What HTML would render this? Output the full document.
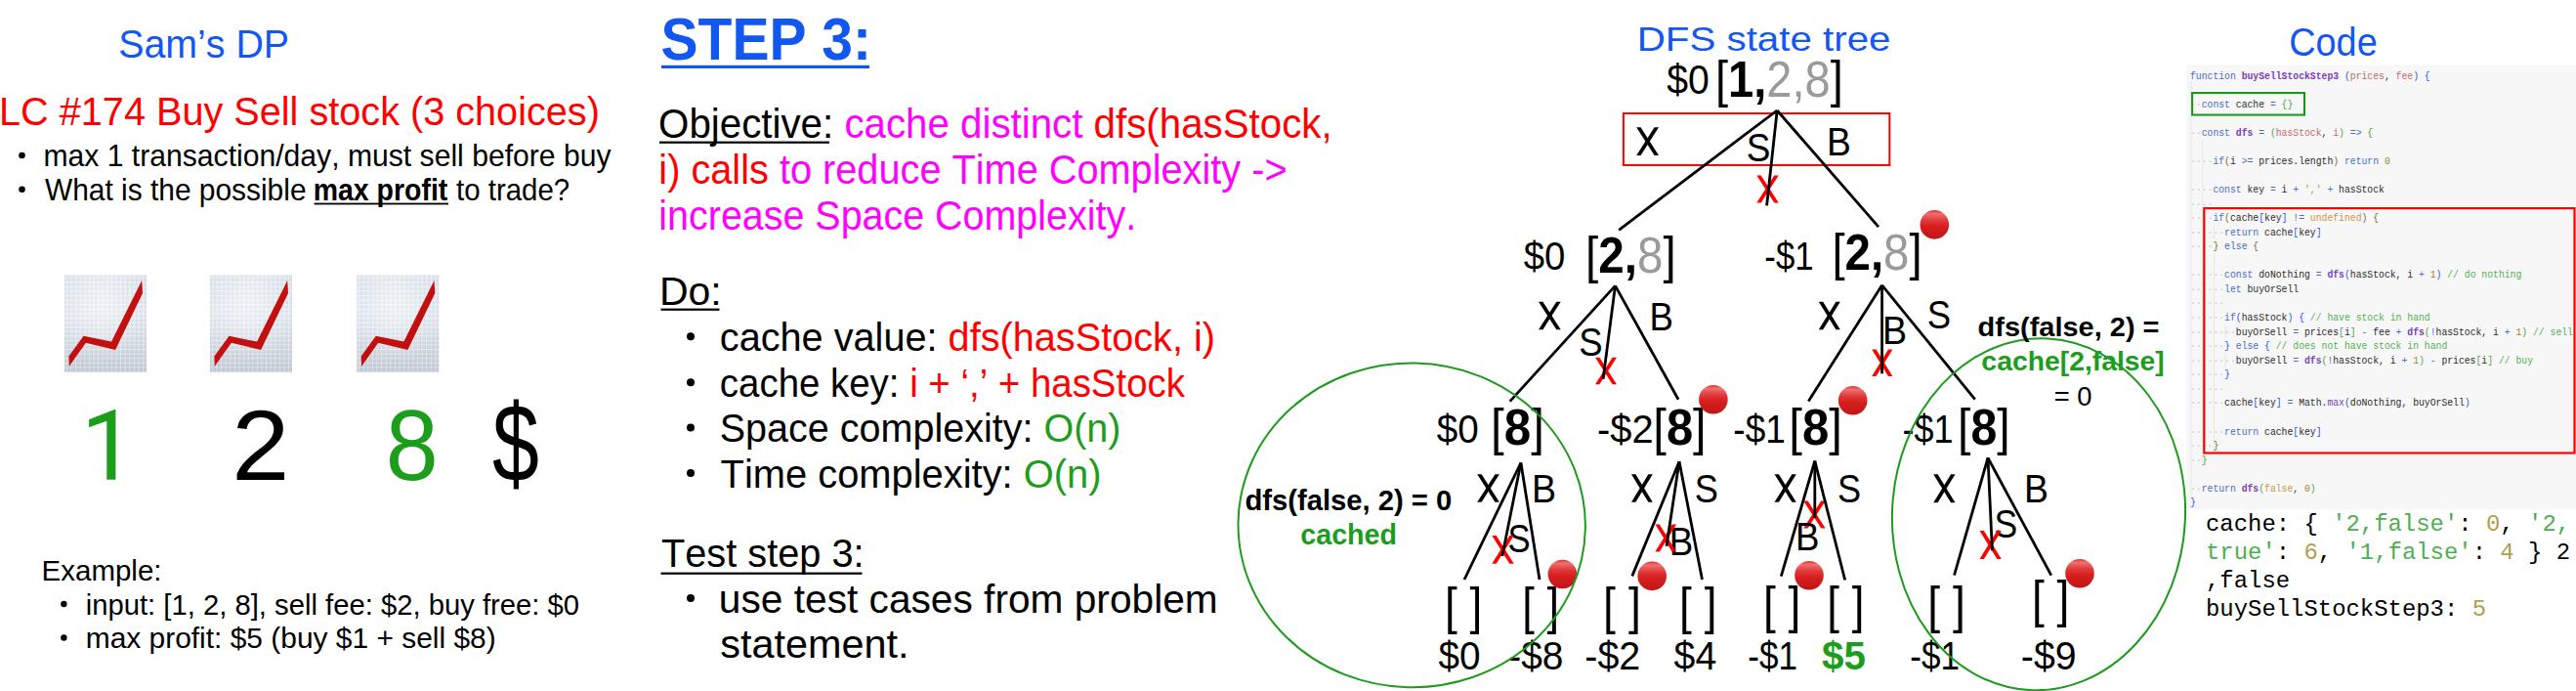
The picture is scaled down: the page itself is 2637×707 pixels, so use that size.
<!DOCTYPE html>
<html><head><meta charset="utf-8"><style>
html,body{margin:0;padding:0;background:#fff;width:2637px;height:707px;overflow:hidden}
svg{display:block}
text{font-kerning:none;white-space:pre}
</style></head><body>
<svg width="2637" height="707" viewBox="0 0 2637 707">
<defs>
<linearGradient id="ball" x1="0" y1="0" x2="0" y2="1">
<stop offset="0" stop-color="#e03030"/><stop offset="0.12" stop-color="#f07070"/><stop offset="0.35" stop-color="#e03a3a"/><stop offset="0.55" stop-color="#d81f1f"/><stop offset="1" stop-color="#c01515"/>
</linearGradient>
<linearGradient id="emobg" x1="0" y1="0" x2="0" y2="1">
<stop offset="0" stop-color="#d8dfe8"/><stop offset="0.4" stop-color="#dde4ec"/><stop offset="1" stop-color="#c2c9d2"/>
</linearGradient>
<radialGradient id="emohi" cx="0.45" cy="0.3" r="0.6">
<stop offset="0" stop-color="#f4f6f8" stop-opacity="0.8"/><stop offset="1" stop-color="#f4f6f8" stop-opacity="0"/>
</radialGradient>
<pattern id="grid" width="4.6" height="4.6" patternUnits="userSpaceOnUse">
<rect x="0" y="2" width="4.6" height="0.8" fill="#ffffff" opacity="0.45"/><rect x="2" y="0" width="0.8" height="4.6" fill="#ffffff" opacity="0.45"/><rect x="0" y="0" width="1.2" height="1.2" fill="#b8c4dc" opacity="0.5"/>
</pattern>
</defs>
<text x="121.21" y="59.00" font-size="40.00" fill="#1357f2" textLength="174.86" lengthAdjust="spacingAndGlyphs" font-family="Liberation Sans">Sam’s DP</text>
<text x="-0.95" y="127.80" font-size="40.70" fill="#ff0000" textLength="614.81" lengthAdjust="spacingAndGlyphs" font-family="Liberation Sans">LC #174 Buy Sell stock (3 choices)</text>
<circle cx="22.50" cy="159.00" r="3.30" fill="#000"/>
<circle cx="22.50" cy="193.70" r="3.30" fill="#000"/>
<text x="44.40" y="169.80" font-size="30.70" fill="#000000" textLength="581.16" lengthAdjust="spacingAndGlyphs" font-family="Liberation Sans">max 1 transaction/day, must sell before buy</text>
<text x="45.97" y="204.70" font-size="30.70" fill="#000000" textLength="267.56" lengthAdjust="spacingAndGlyphs" font-family="Liberation Sans">What is the possible</text>
<text x="320.72" y="204.70" font-size="30.70" fill="#000000" font-weight="bold" textLength="137.62" lengthAdjust="spacingAndGlyphs" font-family="Liberation Sans">max profit</text>
<text x="467.06" y="204.70" font-size="30.70" fill="#000000" textLength="116.04" lengthAdjust="spacingAndGlyphs" font-family="Liberation Sans">to trade?</text>
<rect x="321.60" y="207.60" width="137.40" height="1.80" fill="#000000"/>
<g transform="translate(66.00,281.60)">
<rect x="0" y="0" width="84.00" height="99.50" fill="url(#emobg)"/>
<rect x="0" y="0" width="84.00" height="99.50" fill="url(#emohi)"/>
<rect x="0" y="0" width="84.00" height="99.50" fill="url(#grid)"/>
<polygon points="4.4,82.8 19.5,62.1 48.1,68 79.2,5.5 80,18.3 52.1,76.4 21.9,69.2 4.8,93.1" fill="#c40f0f"/>
</g>
<g transform="translate(215.00,281.60)">
<rect x="0" y="0" width="84.00" height="99.50" fill="url(#emobg)"/>
<rect x="0" y="0" width="84.00" height="99.50" fill="url(#emohi)"/>
<rect x="0" y="0" width="84.00" height="99.50" fill="url(#grid)"/>
<polygon points="4.4,82.8 19.5,62.1 48.1,68 79.2,5.5 80,18.3 52.1,76.4 21.9,69.2 4.8,93.1" fill="#c40f0f"/>
</g>
<g transform="translate(365.30,281.60)">
<rect x="0" y="0" width="84.00" height="99.50" fill="url(#emobg)"/>
<rect x="0" y="0" width="84.00" height="99.50" fill="url(#emohi)"/>
<rect x="0" y="0" width="84.00" height="99.50" fill="url(#grid)"/>
<polygon points="4.4,82.8 19.5,62.1 48.1,68 79.2,5.5 80,18.3 52.1,76.4 21.9,69.2 4.8,93.1" fill="#c40f0f"/>
</g>
<polygon points="91.1,429.3 117.1,419.1 118.4,419.1 118.4,490.7 109.3,490.7 109.3,430.8 91.1,437.3" fill="#1c9e1c"/>
<text x="237.36" y="491.00" font-size="102.00" fill="#000000" textLength="59.09" lengthAdjust="spacingAndGlyphs" font-family="Liberation Sans">2</text>
<text x="394.79" y="491.00" font-size="102.00" fill="#1c9e1c" textLength="53.93" lengthAdjust="spacingAndGlyphs" font-family="Liberation Sans">8</text>
<text x="504.08" y="493.40" font-size="113.50" fill="#000000" textLength="47.81" lengthAdjust="spacingAndGlyphs" font-family="Liberation Sans">$</text>
<text x="42.58" y="593.60" font-size="29.50" fill="#000000" textLength="122.91" lengthAdjust="spacingAndGlyphs" font-family="Liberation Sans">Example:</text>
<circle cx="65.40" cy="618.00" r="3.20" fill="#000"/>
<circle cx="65.40" cy="652.50" r="3.20" fill="#000"/>
<text x="87.74" y="628.60" font-size="29.50" fill="#000000" textLength="505.40" lengthAdjust="spacingAndGlyphs" font-family="Liberation Sans">input: [1, 2, 8], sell fee: $2, buy free: $0</text>
<text x="87.71" y="662.90" font-size="29.50" fill="#000000" textLength="419.94" lengthAdjust="spacingAndGlyphs" font-family="Liberation Sans">max profit: $5 (buy $1 + sell $8)</text>
<text x="676.56" y="60.80" font-size="62.00" fill="#1357f2" font-weight="bold" textLength="215.43" lengthAdjust="spacingAndGlyphs" font-family="Liberation Sans">STEP 3:</text>
<rect x="677.00" y="66.80" width="213.00" height="3.20" fill="#1357f2"/>
<text x="674.09" y="140.80" font-size="42.00" fill="#000000" textLength="179.09" lengthAdjust="spacingAndGlyphs" font-family="Liberation Sans">Objective:</text>
<text x="853.19" y="140.80" font-size="42.00" fill="#ff00ff" textLength="266.42" lengthAdjust="spacingAndGlyphs" font-family="Liberation Sans"> cache distinct </text>
<text x="1119.60" y="140.80" font-size="42.00" fill="#ff0000" textLength="244.02" lengthAdjust="spacingAndGlyphs" font-family="Liberation Sans">dfs(hasStock,</text>
<rect x="675.00" y="144.60" width="174.00" height="2.20" fill="#000000"/>
<text x="674.34" y="188.00" font-size="42.00" fill="#ff0000" textLength="112.52" lengthAdjust="spacingAndGlyphs" font-family="Liberation Sans">i) calls</text>
<text x="786.87" y="188.00" font-size="42.00" fill="#ff00ff" textLength="530.77" lengthAdjust="spacingAndGlyphs" font-family="Liberation Sans"> to reduce Time Complexity -&gt;</text>
<text x="674.36" y="234.60" font-size="42.00" fill="#ff00ff" textLength="488.74" lengthAdjust="spacingAndGlyphs" font-family="Liberation Sans">increase Space Complexity.</text>
<text x="674.94" y="311.70" font-size="40.00" fill="#000000" textLength="63.81" lengthAdjust="spacingAndGlyphs" font-family="Liberation Sans">Do:</text>
<rect x="676.50" y="315.60" width="60.00" height="2.20" fill="#000000"/>
<circle cx="707.00" cy="344.30" r="4.00" fill="#000"/>
<circle cx="707.00" cy="391.30" r="4.00" fill="#000"/>
<circle cx="707.00" cy="437.60" r="4.00" fill="#000"/>
<circle cx="707.00" cy="483.90" r="4.00" fill="#000"/>
<text x="736.81" y="359.10" font-size="41.50" fill="#000000" textLength="233.77" lengthAdjust="spacingAndGlyphs" font-family="Liberation Sans">cache value: </text>
<text x="970.58" y="359.10" font-size="41.50" fill="#ff0000" textLength="273.38" lengthAdjust="spacingAndGlyphs" font-family="Liberation Sans">dfs(hasStock, i)</text>
<text x="736.87" y="406.10" font-size="41.50" fill="#000000" textLength="194.27" lengthAdjust="spacingAndGlyphs" font-family="Liberation Sans">cache key: </text>
<text x="931.14" y="406.10" font-size="41.50" fill="#ff0000" textLength="281.80" lengthAdjust="spacingAndGlyphs" font-family="Liberation Sans">i + ‘,’ + hasStock</text>
<text x="736.71" y="452.40" font-size="41.50" fill="#000000" textLength="331.70" lengthAdjust="spacingAndGlyphs" font-family="Liberation Sans">Space complexity: </text>
<text x="1068.40" y="452.40" font-size="41.50" fill="#1c9e1c" textLength="79.05" lengthAdjust="spacingAndGlyphs" font-family="Liberation Sans">O(n)</text>
<text x="737.60" y="498.70" font-size="41.50" fill="#000000" textLength="310.13" lengthAdjust="spacingAndGlyphs" font-family="Liberation Sans">Time complexity: </text>
<text x="1047.74" y="498.70" font-size="41.50" fill="#1c9e1c" textLength="79.73" lengthAdjust="spacingAndGlyphs" font-family="Liberation Sans">O(n)</text>
<text x="676.91" y="580.00" font-size="41.50" fill="#000000" textLength="207.72" lengthAdjust="spacingAndGlyphs" font-family="Liberation Sans">Test step 3:</text>
<rect x="676.50" y="585.60" width="206.00" height="2.20" fill="#000000"/>
<circle cx="707.00" cy="611.90" r="4.00" fill="#000"/>
<text x="735.86" y="626.70" font-size="41.50" fill="#000000" textLength="510.82" lengthAdjust="spacingAndGlyphs" font-family="Liberation Sans">use test cases from problem</text>
<text x="737.35" y="673.30" font-size="41.50" fill="#000000" textLength="193.13" lengthAdjust="spacingAndGlyphs" font-family="Liberation Sans">statement.</text>
<text x="1675.69" y="52.00" font-size="35.80" fill="#1357f2" textLength="259.80" lengthAdjust="spacingAndGlyphs" font-family="Liberation Sans">DFS state tree</text>
<text x="1706.28" y="96.10" font-size="42.00" fill="#000000" textLength="43.55" lengthAdjust="spacingAndGlyphs" font-family="Liberation Sans">$0</text>
<text x="1756.05" y="98.80" font-size="51.00" fill="#000000" textLength="13.07" lengthAdjust="spacingAndGlyphs" font-family="Liberation Sans">[</text>
<text x="1769.12" y="98.80" font-size="51.00" fill="#000000" font-weight="bold" textLength="39.25" lengthAdjust="spacingAndGlyphs" font-family="Liberation Sans">1,</text>
<text x="1808.36" y="98.80" font-size="51.00" fill="#9a9a9a" textLength="65.42" lengthAdjust="spacingAndGlyphs" font-family="Liberation Sans">2,8</text>
<text x="1873.78" y="98.80" font-size="51.00" fill="#000000" textLength="13.07" lengthAdjust="spacingAndGlyphs" font-family="Liberation Sans">]</text>
<rect x="1661.9" y="116.05" width="272.4" height="52.9" fill="none" stroke="#ff0000" stroke-width="2"/>
<polygon points="1675.20,130.20 1679.60,130.20 1698.00,158.90 1693.60,158.90" fill="#000000"/>
<polygon points="1693.60,130.20 1698.00,130.20 1679.60,158.90 1675.20,158.90" fill="#000000"/>
<text x="1787.72" y="164.50" font-size="41.50" fill="#000000" textLength="24.68" lengthAdjust="spacingAndGlyphs" font-family="Liberation Sans">S</text>
<text x="1869.95" y="158.90" font-size="41.50" fill="#000000" textLength="24.81" lengthAdjust="spacingAndGlyphs" font-family="Liberation Sans">B</text>
<polygon points="1798.30,179.60 1802.70,179.60 1820.70,207.50 1816.30,207.50" fill="#ff0000"/>
<polygon points="1816.30,179.60 1820.70,179.60 1802.70,207.50 1798.30,207.50" fill="#ff0000"/>
<text x="1559.79" y="276.20" font-size="40.00" fill="#000000" textLength="42.61" lengthAdjust="spacingAndGlyphs" font-family="Liberation Sans">$0</text>
<text x="1623.11" y="278.50" font-size="51.00" fill="#000000" textLength="13.22" lengthAdjust="spacingAndGlyphs" font-family="Liberation Sans">[</text>
<text x="1636.33" y="278.50" font-size="51.00" fill="#000000" font-weight="bold" textLength="39.68" lengthAdjust="spacingAndGlyphs" font-family="Liberation Sans">2,</text>
<text x="1676.01" y="278.50" font-size="51.00" fill="#9a9a9a" textLength="26.46" lengthAdjust="spacingAndGlyphs" font-family="Liberation Sans">8</text>
<text x="1702.47" y="278.50" font-size="51.00" fill="#000000" textLength="13.22" lengthAdjust="spacingAndGlyphs" font-family="Liberation Sans">]</text>
<text x="1806.36" y="276.20" font-size="40.00" fill="#000000" textLength="50.24" lengthAdjust="spacingAndGlyphs" font-family="Liberation Sans">-$1</text>
<text x="1875.42" y="275.50" font-size="51.00" fill="#000000" textLength="13.16" lengthAdjust="spacingAndGlyphs" font-family="Liberation Sans">[</text>
<text x="1888.58" y="275.50" font-size="51.00" fill="#000000" font-weight="bold" textLength="39.50" lengthAdjust="spacingAndGlyphs" font-family="Liberation Sans">2,</text>
<text x="1928.08" y="275.50" font-size="51.00" fill="#9a9a9a" textLength="26.34" lengthAdjust="spacingAndGlyphs" font-family="Liberation Sans">8</text>
<text x="1954.42" y="275.50" font-size="51.00" fill="#000000" textLength="13.16" lengthAdjust="spacingAndGlyphs" font-family="Liberation Sans">]</text>
<polygon points="1575.00,308.70 1579.40,308.70 1597.70,337.20 1593.30,337.20" fill="#000000"/>
<polygon points="1593.30,308.70 1597.70,308.70 1579.40,337.20 1575.00,337.20" fill="#000000"/>
<text x="1616.34" y="363.90" font-size="41.50" fill="#000000" textLength="24.33" lengthAdjust="spacingAndGlyphs" font-family="Liberation Sans">S</text>
<text x="1688.49" y="338.30" font-size="41.50" fill="#000000" textLength="24.44" lengthAdjust="spacingAndGlyphs" font-family="Liberation Sans">B</text>
<polygon points="1633.00,365.80 1637.40,365.80 1655.00,393.30 1650.60,393.30" fill="#ff0000"/>
<polygon points="1650.60,365.80 1655.00,365.80 1637.40,393.30 1633.00,393.30" fill="#ff0000"/>
<polygon points="1861.80,308.70 1866.20,308.70 1883.80,337.20 1879.40,337.20" fill="#000000"/>
<polygon points="1879.40,308.70 1883.80,308.70 1866.20,337.20 1861.80,337.20" fill="#000000"/>
<text x="1926.92" y="352.00" font-size="41.50" fill="#000000" textLength="25.06" lengthAdjust="spacingAndGlyphs" font-family="Liberation Sans">B</text>
<text x="1972.84" y="336.40" font-size="41.50" fill="#000000" textLength="24.33" lengthAdjust="spacingAndGlyphs" font-family="Liberation Sans">S</text>
<polygon points="1916.20,357.60 1920.60,357.60 1937.40,385.00 1933.00,385.00" fill="#ff0000"/>
<polygon points="1933.00,357.60 1937.40,357.60 1920.60,385.00 1916.20,385.00" fill="#ff0000"/>
<text x="1470.68" y="453.00" font-size="40.00" fill="#000000" textLength="43.03" lengthAdjust="spacingAndGlyphs" font-family="Liberation Sans">$0</text>
<text x="1526.08" y="455.00" font-size="51.00" fill="#000000" textLength="13.70" lengthAdjust="spacingAndGlyphs" font-family="Liberation Sans">[</text>
<text x="1539.79" y="455.00" font-size="51.00" fill="#000000" font-weight="bold" textLength="27.43" lengthAdjust="spacingAndGlyphs" font-family="Liberation Sans">8</text>
<text x="1567.21" y="455.00" font-size="51.00" fill="#000000" textLength="13.70" lengthAdjust="spacingAndGlyphs" font-family="Liberation Sans">]</text>
<text x="1635.03" y="453.00" font-size="40.00" fill="#000000" textLength="57.57" lengthAdjust="spacingAndGlyphs" font-family="Liberation Sans">-$2</text>
<text x="1692.31" y="455.00" font-size="51.00" fill="#000000" textLength="13.59" lengthAdjust="spacingAndGlyphs" font-family="Liberation Sans">[</text>
<text x="1705.90" y="455.00" font-size="51.00" fill="#000000" font-weight="bold" textLength="27.20" lengthAdjust="spacingAndGlyphs" font-family="Liberation Sans">8</text>
<text x="1733.10" y="455.00" font-size="51.00" fill="#000000" textLength="13.59" lengthAdjust="spacingAndGlyphs" font-family="Liberation Sans">]</text>
<text x="1774.36" y="453.00" font-size="40.00" fill="#000000" textLength="53.45" lengthAdjust="spacingAndGlyphs" font-family="Liberation Sans">-$1</text>
<text x="1831.30" y="455.00" font-size="51.00" fill="#000000" textLength="13.64" lengthAdjust="spacingAndGlyphs" font-family="Liberation Sans">[</text>
<text x="1844.94" y="455.00" font-size="51.00" fill="#000000" font-weight="bold" textLength="27.31" lengthAdjust="spacingAndGlyphs" font-family="Liberation Sans">8</text>
<text x="1872.26" y="455.00" font-size="51.00" fill="#000000" textLength="13.64" lengthAdjust="spacingAndGlyphs" font-family="Liberation Sans">]</text>
<text x="1947.60" y="453.00" font-size="40.00" fill="#000000" textLength="52.06" lengthAdjust="spacingAndGlyphs" font-family="Liberation Sans">-$1</text>
<text x="2004.06" y="455.00" font-size="51.00" fill="#000000" textLength="13.42" lengthAdjust="spacingAndGlyphs" font-family="Liberation Sans">[</text>
<text x="2017.47" y="455.00" font-size="51.00" fill="#000000" font-weight="bold" textLength="26.85" lengthAdjust="spacingAndGlyphs" font-family="Liberation Sans">8</text>
<text x="2044.33" y="455.00" font-size="51.00" fill="#000000" textLength="13.42" lengthAdjust="spacingAndGlyphs" font-family="Liberation Sans">]</text>
<polygon points="1512.20,485.20 1516.60,485.20 1534.90,513.80 1530.50,513.80" fill="#000000"/>
<polygon points="1530.50,485.20 1534.90,485.20 1516.60,513.80 1512.20,513.80" fill="#000000"/>
<text x="1567.92" y="513.80" font-size="41.50" fill="#000000" textLength="25.06" lengthAdjust="spacingAndGlyphs" font-family="Liberation Sans">B</text>
<text x="1543.43" y="565.00" font-size="41.50" fill="#000000" textLength="23.06" lengthAdjust="spacingAndGlyphs" font-family="Liberation Sans">S</text>
<polygon points="1527.30,548.10 1531.70,548.10 1549.70,576.70 1545.30,576.70" fill="#ff0000"/>
<polygon points="1545.30,548.10 1549.70,548.10 1531.70,576.70 1527.30,576.70" fill="#ff0000"/>
<polygon points="1670.00,485.20 1674.40,485.20 1691.80,513.80 1687.40,513.80" fill="#000000"/>
<polygon points="1687.40,485.20 1691.80,485.20 1674.40,513.80 1670.00,513.80" fill="#000000"/>
<text x="1734.75" y="513.60" font-size="41.50" fill="#000000" textLength="24.21" lengthAdjust="spacingAndGlyphs" font-family="Liberation Sans">S</text>
<text x="1708.79" y="567.50" font-size="41.50" fill="#000000" textLength="24.44" lengthAdjust="spacingAndGlyphs" font-family="Liberation Sans">B</text>
<polygon points="1694.40,536.40 1698.80,536.40 1716.10,564.60 1711.70,564.60" fill="#ff0000"/>
<polygon points="1711.70,536.40 1716.10,536.40 1698.80,564.60 1694.40,564.60" fill="#ff0000"/>
<polygon points="1816.50,485.20 1820.90,485.20 1838.80,513.80 1834.40,513.80" fill="#000000"/>
<polygon points="1834.40,485.20 1838.80,485.20 1820.90,513.80 1816.50,513.80" fill="#000000"/>
<text x="1881.06" y="513.60" font-size="41.50" fill="#000000" textLength="24.10" lengthAdjust="spacingAndGlyphs" font-family="Liberation Sans">S</text>
<polygon points="1846.20,512.50 1850.60,512.50 1868.60,540.50 1864.20,540.50" fill="#ff0000"/>
<polygon points="1864.20,512.50 1868.60,512.50 1850.60,540.50 1846.20,540.50" fill="#ff0000"/>
<text x="1837.99" y="562.60" font-size="41.50" fill="#000000" textLength="24.44" lengthAdjust="spacingAndGlyphs" font-family="Liberation Sans">B</text>
<polygon points="1979.20,485.30 1983.60,485.30 2001.50,514.30 1997.10,514.30" fill="#000000"/>
<polygon points="1997.10,485.30 2001.50,485.30 1983.60,514.30 1979.20,514.30" fill="#000000"/>
<text x="2072.03" y="514.30" font-size="41.50" fill="#000000" textLength="24.94" lengthAdjust="spacingAndGlyphs" font-family="Liberation Sans">B</text>
<text x="2041.38" y="550.20" font-size="41.50" fill="#000000" textLength="23.75" lengthAdjust="spacingAndGlyphs" font-family="Liberation Sans">S</text>
<polygon points="2026.50,543.10 2030.90,543.10 2048.80,571.90 2044.40,571.90" fill="#ff0000"/>
<polygon points="2044.40,543.10 2048.80,543.10 2030.90,571.90 2026.50,571.90" fill="#ff0000"/>
<line x1="1819.20" y1="113.00" x2="1657.20" y2="235.30" stroke="#000" stroke-width="2.80"/>
<line x1="1819.20" y1="113.00" x2="1808.60" y2="210.30" stroke="#000" stroke-width="2.80"/>
<line x1="1819.20" y1="113.00" x2="1923.00" y2="232.10" stroke="#000" stroke-width="2.80"/>
<line x1="1653.50" y1="292.40" x2="1545.70" y2="410.60" stroke="#000" stroke-width="2.80"/>
<line x1="1653.50" y1="292.40" x2="1641.10" y2="387.80" stroke="#000" stroke-width="2.80"/>
<line x1="1653.50" y1="292.40" x2="1718.10" y2="408.70" stroke="#000" stroke-width="2.80"/>
<line x1="1926.60" y1="291.80" x2="1851.30" y2="410.60" stroke="#000" stroke-width="2.80"/>
<line x1="1926.60" y1="291.80" x2="1926.60" y2="382.30" stroke="#000" stroke-width="2.80"/>
<line x1="1926.60" y1="291.80" x2="2021.80" y2="408.70" stroke="#000" stroke-width="2.80"/>
<line x1="1556.90" y1="473.50" x2="1499.00" y2="593.00" stroke="#000" stroke-width="2.80"/>
<line x1="1556.90" y1="473.50" x2="1537.80" y2="569.00" stroke="#000" stroke-width="2.80"/>
<line x1="1556.90" y1="473.50" x2="1576.00" y2="593.00" stroke="#000" stroke-width="2.80"/>
<line x1="1719.00" y1="472.30" x2="1670.80" y2="589.40" stroke="#000" stroke-width="2.80"/>
<line x1="1719.00" y1="472.30" x2="1706.00" y2="558.80" stroke="#000" stroke-width="2.80"/>
<line x1="1719.00" y1="472.30" x2="1742.50" y2="593.00" stroke="#000" stroke-width="2.80"/>
<line x1="1857.80" y1="471.60" x2="1823.30" y2="589.70" stroke="#000" stroke-width="2.80"/>
<line x1="1857.80" y1="471.60" x2="1857.80" y2="530.00" stroke="#000" stroke-width="2.80"/>
<line x1="1857.80" y1="471.60" x2="1888.70" y2="593.50" stroke="#000" stroke-width="2.80"/>
<line x1="2035.00" y1="468.50" x2="2000.50" y2="588.70" stroke="#000" stroke-width="2.80"/>
<line x1="2035.00" y1="468.50" x2="2039.40" y2="563.30" stroke="#000" stroke-width="2.80"/>
<line x1="2035.00" y1="468.50" x2="2099.80" y2="588.70" stroke="#000" stroke-width="2.80"/>
<text x="1479.02" y="637.80" font-size="51.80" fill="#000000" textLength="38.36" lengthAdjust="spacingAndGlyphs" font-family="Liberation Sans">[ ]</text>
<text x="1558.37" y="637.80" font-size="51.80" fill="#000000" textLength="37.76" lengthAdjust="spacingAndGlyphs" font-family="Liberation Sans">[ ]</text>
<text x="1641.09" y="637.80" font-size="51.80" fill="#000000" textLength="38.72" lengthAdjust="spacingAndGlyphs" font-family="Liberation Sans">[ ]</text>
<text x="1719.12" y="637.80" font-size="51.80" fill="#000000" textLength="38.36" lengthAdjust="spacingAndGlyphs" font-family="Liberation Sans">[ ]</text>
<text x="1804.90" y="637.30" font-size="51.80" fill="#000000" textLength="38.60" lengthAdjust="spacingAndGlyphs" font-family="Liberation Sans">[ ]</text>
<text x="1870.24" y="637.30" font-size="51.80" fill="#000000" textLength="38.12" lengthAdjust="spacingAndGlyphs" font-family="Liberation Sans">[ ]</text>
<text x="1973.20" y="637.30" font-size="51.80" fill="#000000" textLength="38.60" lengthAdjust="spacingAndGlyphs" font-family="Liberation Sans">[ ]</text>
<text x="2079.90" y="630.80" font-size="51.80" fill="#000000" textLength="38.60" lengthAdjust="spacingAndGlyphs" font-family="Liberation Sans">[ ]</text>
<text x="1472.58" y="685.30" font-size="40.40" fill="#000000" textLength="43.03" lengthAdjust="spacingAndGlyphs" font-family="Liberation Sans">$0</text>
<text x="1544.27" y="685.30" font-size="40.40" fill="#000000" textLength="56.22" lengthAdjust="spacingAndGlyphs" font-family="Liberation Sans">-$8</text>
<text x="1622.25" y="685.30" font-size="40.40" fill="#000000" textLength="57.04" lengthAdjust="spacingAndGlyphs" font-family="Liberation Sans">-$2</text>
<text x="1713.58" y="685.30" font-size="40.40" fill="#000000" textLength="43.67" lengthAdjust="spacingAndGlyphs" font-family="Liberation Sans">$4</text>
<text x="1789.34" y="685.30" font-size="40.40" fill="#000000" textLength="50.67" lengthAdjust="spacingAndGlyphs" font-family="Liberation Sans">-$1</text>
<text x="1865.07" y="685.30" font-size="40.40" fill="#1c9e1c" font-weight="bold" textLength="44.85" lengthAdjust="spacingAndGlyphs" font-family="Liberation Sans">$5</text>
<text x="1955.24" y="685.30" font-size="40.40" fill="#000000" textLength="50.67" lengthAdjust="spacingAndGlyphs" font-family="Liberation Sans">-$1</text>
<text x="2068.85" y="685.30" font-size="40.40" fill="#000000" textLength="56.81" lengthAdjust="spacingAndGlyphs" font-family="Liberation Sans">-$9</text>
<circle cx="1980.3" cy="229.9" r="14.8" fill="url(#ball)"/>
<circle cx="1753.9" cy="408.7" r="14.8" fill="url(#ball)"/>
<circle cx="1896.7" cy="409.8" r="14.8" fill="url(#ball)"/>
<circle cx="1599.4" cy="587.5" r="14.8" fill="url(#ball)"/>
<circle cx="1691.2" cy="589.4" r="14.8" fill="url(#ball)"/>
<circle cx="1852.0" cy="588.8" r="14.8" fill="url(#ball)"/>
<circle cx="2129.0" cy="586.7" r="14.8" fill="url(#ball)"/>
<ellipse cx="1445.2" cy="537.4" rx="177.7" ry="165.9" transform="rotate(1.26 1445.2 537.4)" fill="none" stroke="#1e9a1e" stroke-width="2"/>
<ellipse cx="2087" cy="526.3" rx="150" ry="180" transform="rotate(3 2087 526.3)" fill="none" stroke="#1e9a1e" stroke-width="2"/>
<text x="1274.40" y="522.00" font-size="29.00" fill="#000000" font-weight="bold" textLength="211.90" lengthAdjust="spacingAndGlyphs" font-family="Liberation Sans">dfs(false, 2) = 0</text>
<text x="1331.28" y="556.70" font-size="29.00" fill="#1c9e1c" font-weight="bold" textLength="98.81" lengthAdjust="spacingAndGlyphs" font-family="Liberation Sans">cached</text>
<text x="2024.61" y="344.00" font-size="27.00" fill="#000000" font-weight="bold" textLength="185.88" lengthAdjust="spacingAndGlyphs" font-family="Liberation Sans">dfs(false, 2) =</text>
<text x="2028.39" y="379.30" font-size="27.00" fill="#1c9e1c" font-weight="bold" textLength="187.40" lengthAdjust="spacingAndGlyphs" font-family="Liberation Sans">cache[2,false]</text>
<text x="2102.66" y="414.80" font-size="27.00" fill="#000000" textLength="38.81" lengthAdjust="spacingAndGlyphs" font-family="Liberation Sans">= 0</text>
<text x="2343.28" y="57.10" font-size="41.00" fill="#1357f2" textLength="90.40" lengthAdjust="spacingAndGlyphs" font-family="Liberation Sans">Code</text>
<rect x="2238.30" y="66.70" width="398.70" height="454.60" fill="#f7f7f7"/>
<rect x="2242.50" y="84.50" width="1" height="422.24" fill="#e6e6e6"/>
<rect x="2254.20" y="142.74" width="1" height="334.88" fill="#e6e6e6"/>
<rect x="2265.90" y="230.10" width="1" height="14.56" fill="#e6e6e6"/>
<rect x="2265.90" y="259.22" width="1" height="203.84" fill="#e6e6e6"/>
<rect x="2277.60" y="332.02" width="1" height="14.56" fill="#e6e6e6"/>
<rect x="2277.60" y="361.14" width="1" height="14.56" fill="#e6e6e6"/>
<text x="2242.00" y="80.50" font-family="Liberation Mono" font-size="10.60" textLength="245.70" lengthAdjust="spacingAndGlyphs"><tspan fill="#4a6cc8">function</tspan><tspan fill="#2a2a2a"> </tspan><tspan fill="#7a3ec0" font-weight="bold">buySellStockStep3</tspan><tspan fill="#2a2a2a"> </tspan><tspan fill="#1a55ff">(</tspan><tspan fill="#c46a68">prices</tspan><tspan fill="#2a2a2a">, </tspan><tspan fill="#c46a68">fee</tspan><tspan fill="#1a55ff">)</tspan><tspan fill="#2a2a2a"> </tspan><tspan fill="#1a55ff">{</tspan></text>
<text x="2242.00" y="109.62" font-family="Liberation Mono" font-size="10.60" textLength="105.30" lengthAdjust="spacingAndGlyphs"><tspan fill="#c4c4c4">··</tspan><tspan fill="#4a6cc8">const</tspan><tspan fill="#2a2a2a"> cache </tspan><tspan fill="#4a6cc8">=</tspan><tspan fill="#2a2a2a"> </tspan><tspan fill="#46a846">{}</tspan></text>
<text x="2242.00" y="138.74" font-family="Liberation Mono" font-size="10.60" textLength="187.20" lengthAdjust="spacingAndGlyphs"><tspan fill="#c4c4c4">··</tspan><tspan fill="#4a6cc8">const</tspan><tspan fill="#2a2a2a"> </tspan><tspan fill="#7a3ec0" font-weight="bold">dfs</tspan><tspan fill="#2a2a2a"> </tspan><tspan fill="#4a6cc8">=</tspan><tspan fill="#2a2a2a"> </tspan><tspan fill="#46a846">(</tspan><tspan fill="#c46a68">hasStock</tspan><tspan fill="#2a2a2a">, </tspan><tspan fill="#c46a68">i</tspan><tspan fill="#46a846">)</tspan><tspan fill="#2a2a2a"> </tspan><tspan fill="#4a6cc8">=&gt;</tspan><tspan fill="#2a2a2a"> </tspan><tspan fill="#46a846">{</tspan></text>
<text x="2242.00" y="167.86" font-family="Liberation Mono" font-size="10.60" textLength="204.75" lengthAdjust="spacingAndGlyphs"><tspan fill="#c4c4c4">····</tspan><tspan fill="#4a6cc8">if</tspan><tspan fill="#8a6838">(</tspan><tspan fill="#2a2a2a">i </tspan><tspan fill="#4a6cc8">&gt;=</tspan><tspan fill="#2a2a2a"> prices.length</tspan><tspan fill="#8a6838">)</tspan><tspan fill="#2a2a2a"> </tspan><tspan fill="#4a6cc8">return</tspan><tspan fill="#2a2a2a"> </tspan><tspan fill="#9a8428">0</tspan></text>
<text x="2242.00" y="196.98" font-family="Liberation Mono" font-size="10.60" textLength="198.90" lengthAdjust="spacingAndGlyphs"><tspan fill="#c4c4c4">····</tspan><tspan fill="#4a6cc8">const</tspan><tspan fill="#2a2a2a"> key </tspan><tspan fill="#4a6cc8">=</tspan><tspan fill="#2a2a2a"> i </tspan><tspan fill="#4a6cc8">+</tspan><tspan fill="#2a2a2a"> </tspan><tspan fill="#c08a40">&#x27;,&#x27;</tspan><tspan fill="#2a2a2a"> </tspan><tspan fill="#4a6cc8">+</tspan><tspan fill="#2a2a2a"> hasStock</tspan></text>
<text x="2242.00" y="211.54" font-family="Liberation Mono" font-size="10.60" textLength="23.40" lengthAdjust="spacingAndGlyphs"><tspan fill="#c4c4c4">····</tspan></text>
<text x="2242.00" y="226.10" font-family="Liberation Mono" font-size="10.60" textLength="193.05" lengthAdjust="spacingAndGlyphs"><tspan fill="#c4c4c4">····</tspan><tspan fill="#4a6cc8">if</tspan><tspan fill="#8a6838">(</tspan><tspan fill="#2a2a2a">cache</tspan><tspan fill="#1a55ff">[</tspan><tspan fill="#2a2a2a">key</tspan><tspan fill="#1a55ff">]</tspan><tspan fill="#2a2a2a"> </tspan><tspan fill="#4a6cc8">!=</tspan><tspan fill="#2a2a2a"> </tspan><tspan fill="#c8964e">undefined</tspan><tspan fill="#8a6838">)</tspan><tspan fill="#2a2a2a"> </tspan><tspan fill="#8a6838">{</tspan></text>
<text x="2242.00" y="240.66" font-family="Liberation Mono" font-size="10.60" textLength="134.55" lengthAdjust="spacingAndGlyphs"><tspan fill="#c4c4c4">······</tspan><tspan fill="#4a6cc8">return</tspan><tspan fill="#2a2a2a"> cache</tspan><tspan fill="#1a55ff">[</tspan><tspan fill="#2a2a2a">key</tspan><tspan fill="#1a55ff">]</tspan></text>
<text x="2242.00" y="255.22" font-family="Liberation Mono" font-size="10.60" textLength="70.20" lengthAdjust="spacingAndGlyphs"><tspan fill="#c4c4c4">····</tspan><tspan fill="#8a6838">}</tspan><tspan fill="#2a2a2a"> </tspan><tspan fill="#4a6cc8">else</tspan><tspan fill="#2a2a2a"> </tspan><tspan fill="#8a6838">{</tspan></text>
<text x="2242.00" y="284.34" font-family="Liberation Mono" font-size="10.60" textLength="339.30" lengthAdjust="spacingAndGlyphs"><tspan fill="#c4c4c4">······</tspan><tspan fill="#4a6cc8">const</tspan><tspan fill="#2a2a2a"> doNothing </tspan><tspan fill="#4a6cc8">=</tspan><tspan fill="#2a2a2a"> </tspan><tspan fill="#7a3ec0" font-weight="bold">dfs</tspan><tspan fill="#1a55ff">(</tspan><tspan fill="#2a2a2a">hasStock, i </tspan><tspan fill="#4a6cc8">+</tspan><tspan fill="#2a2a2a"> </tspan><tspan fill="#9a8428">1</tspan><tspan fill="#1a55ff">)</tspan><tspan fill="#2a2a2a"> </tspan><tspan fill="#55b055">// do nothing</tspan></text>
<text x="2242.00" y="298.90" font-family="Liberation Mono" font-size="10.60" textLength="111.15" lengthAdjust="spacingAndGlyphs"><tspan fill="#c4c4c4">······</tspan><tspan fill="#4a6cc8">let</tspan><tspan fill="#2a2a2a"> buyOrSell</tspan></text>
<text x="2242.00" y="313.46" font-family="Liberation Mono" font-size="10.60" textLength="35.10" lengthAdjust="spacingAndGlyphs"><tspan fill="#c4c4c4">······</tspan></text>
<text x="2242.00" y="328.02" font-family="Liberation Mono" font-size="10.60" textLength="245.70" lengthAdjust="spacingAndGlyphs"><tspan fill="#c4c4c4">······</tspan><tspan fill="#4a6cc8">if</tspan><tspan fill="#1a55ff">(</tspan><tspan fill="#2a2a2a">hasStock</tspan><tspan fill="#1a55ff">)</tspan><tspan fill="#2a2a2a"> </tspan><tspan fill="#1a55ff">{</tspan><tspan fill="#2a2a2a"> </tspan><tspan fill="#55b055">// have stock in hand</tspan></text>
<text x="2242.00" y="342.58" font-family="Liberation Mono" font-size="10.60" textLength="391.95" lengthAdjust="spacingAndGlyphs"><tspan fill="#c4c4c4">········</tspan><tspan fill="#2a2a2a">buyOrSell </tspan><tspan fill="#4a6cc8">=</tspan><tspan fill="#2a2a2a"> prices</tspan><tspan fill="#46a846">[</tspan><tspan fill="#2a2a2a">i</tspan><tspan fill="#46a846">]</tspan><tspan fill="#2a2a2a"> </tspan><tspan fill="#4a6cc8">-</tspan><tspan fill="#2a2a2a"> fee </tspan><tspan fill="#4a6cc8">+</tspan><tspan fill="#2a2a2a"> </tspan><tspan fill="#7a3ec0" font-weight="bold">dfs</tspan><tspan fill="#46a846">(</tspan><tspan fill="#4a6cc8">!</tspan><tspan fill="#2a2a2a">hasStock, i </tspan><tspan fill="#4a6cc8">+</tspan><tspan fill="#2a2a2a"> </tspan><tspan fill="#9a8428">1</tspan><tspan fill="#46a846">)</tspan><tspan fill="#2a2a2a"> </tspan><tspan fill="#55b055">// sell</tspan></text>
<text x="2242.00" y="357.14" font-family="Liberation Mono" font-size="10.60" textLength="263.25" lengthAdjust="spacingAndGlyphs"><tspan fill="#c4c4c4">······</tspan><tspan fill="#1a55ff">}</tspan><tspan fill="#2a2a2a"> </tspan><tspan fill="#4a6cc8">else</tspan><tspan fill="#2a2a2a"> </tspan><tspan fill="#1a55ff">{</tspan><tspan fill="#2a2a2a"> </tspan><tspan fill="#55b055">// does not have stock in hand</tspan></text>
<text x="2242.00" y="371.70" font-family="Liberation Mono" font-size="10.60" textLength="351.00" lengthAdjust="spacingAndGlyphs"><tspan fill="#c4c4c4">········</tspan><tspan fill="#2a2a2a">buyOrSell </tspan><tspan fill="#4a6cc8">=</tspan><tspan fill="#2a2a2a"> </tspan><tspan fill="#7a3ec0" font-weight="bold">dfs</tspan><tspan fill="#46a846">(</tspan><tspan fill="#4a6cc8">!</tspan><tspan fill="#2a2a2a">hasStock, i </tspan><tspan fill="#4a6cc8">+</tspan><tspan fill="#2a2a2a"> </tspan><tspan fill="#9a8428">1</tspan><tspan fill="#46a846">)</tspan><tspan fill="#2a2a2a"> </tspan><tspan fill="#4a6cc8">-</tspan><tspan fill="#2a2a2a"> prices</tspan><tspan fill="#46a846">[</tspan><tspan fill="#2a2a2a">i</tspan><tspan fill="#46a846">]</tspan><tspan fill="#2a2a2a"> </tspan><tspan fill="#55b055">// buy</tspan></text>
<text x="2242.00" y="386.26" font-family="Liberation Mono" font-size="10.60" textLength="40.95" lengthAdjust="spacingAndGlyphs"><tspan fill="#c4c4c4">······</tspan><tspan fill="#1a55ff">}</tspan></text>
<text x="2242.00" y="400.82" font-family="Liberation Mono" font-size="10.60" textLength="35.10" lengthAdjust="spacingAndGlyphs"><tspan fill="#c4c4c4">······</tspan></text>
<text x="2242.00" y="415.38" font-family="Liberation Mono" font-size="10.60" textLength="286.65" lengthAdjust="spacingAndGlyphs"><tspan fill="#c4c4c4">······</tspan><tspan fill="#2a2a2a">cache</tspan><tspan fill="#1a55ff">[</tspan><tspan fill="#2a2a2a">key</tspan><tspan fill="#1a55ff">]</tspan><tspan fill="#2a2a2a"> </tspan><tspan fill="#4a6cc8">=</tspan><tspan fill="#2a2a2a"> Math.</tspan><tspan fill="#7a3ec0">max</tspan><tspan fill="#1a55ff">(</tspan><tspan fill="#2a2a2a">doNothing, buyOrSell</tspan><tspan fill="#1a55ff">)</tspan></text>
<text x="2242.00" y="444.50" font-family="Liberation Mono" font-size="10.60" textLength="134.55" lengthAdjust="spacingAndGlyphs"><tspan fill="#c4c4c4">······</tspan><tspan fill="#4a6cc8">return</tspan><tspan fill="#2a2a2a"> cache</tspan><tspan fill="#1a55ff">[</tspan><tspan fill="#2a2a2a">key</tspan><tspan fill="#1a55ff">]</tspan></text>
<text x="2242.00" y="459.06" font-family="Liberation Mono" font-size="10.60" textLength="29.25" lengthAdjust="spacingAndGlyphs"><tspan fill="#c4c4c4">····</tspan><tspan fill="#8a6838">}</tspan></text>
<text x="2242.00" y="473.62" font-family="Liberation Mono" font-size="10.60" textLength="17.55" lengthAdjust="spacingAndGlyphs"><tspan fill="#c4c4c4">··</tspan><tspan fill="#46a846">}</tspan></text>
<text x="2242.00" y="502.74" font-family="Liberation Mono" font-size="10.60" textLength="128.70" lengthAdjust="spacingAndGlyphs"><tspan fill="#c4c4c4">··</tspan><tspan fill="#4a6cc8">return</tspan><tspan fill="#2a2a2a"> </tspan><tspan fill="#7a3ec0" font-weight="bold">dfs</tspan><tspan fill="#46a846">(</tspan><tspan fill="#c8964e">false</tspan><tspan fill="#2a2a2a">, </tspan><tspan fill="#9a8428">0</tspan><tspan fill="#46a846">)</tspan></text>
<text x="2242.00" y="517.30" font-family="Liberation Mono" font-size="10.60" textLength="5.85" lengthAdjust="spacingAndGlyphs"><tspan fill="#1a55ff">}</tspan></text>
<rect x="2244.1" y="95.05" width="114.9" height="22.5" fill="none" stroke="#129812" stroke-width="2"/>
<rect x="2256.3" y="213.1" width="379.2" height="250.4" fill="none" stroke="#ff0000" stroke-width="2.2"/>
<text x="2258.00" y="543.40" font-family="Liberation Mono" font-size="24" textLength="373.10" lengthAdjust="spacingAndGlyphs"><tspan fill="#000000">cache: { </tspan><tspan fill="#4fae4f">&#x27;2,false&#x27;</tspan><tspan fill="#000000">: </tspan><tspan fill="#b0a050">0</tspan><tspan fill="#000000">, </tspan><tspan fill="#4fae4f">&#x27;2,</tspan></text>
<text x="2258.00" y="572.10" font-family="Liberation Mono" font-size="24" textLength="373.10" lengthAdjust="spacingAndGlyphs"><tspan fill="#4fae4f">true&#x27;</tspan><tspan fill="#000000">: </tspan><tspan fill="#b0a050">6</tspan><tspan fill="#000000">, </tspan><tspan fill="#4fae4f">&#x27;1,false&#x27;</tspan><tspan fill="#000000">: </tspan><tspan fill="#b0a050">4</tspan><tspan fill="#000000"> } 2</tspan></text>
<text x="2258.00" y="600.80" font-family="Liberation Mono" font-size="24" textLength="86.10" lengthAdjust="spacingAndGlyphs"><tspan fill="#000000">,false</tspan></text>
<text x="2258.00" y="629.50" font-family="Liberation Mono" font-size="24" textLength="287.00" lengthAdjust="spacingAndGlyphs"><tspan fill="#000000">buySellStockStep3: </tspan><tspan fill="#b0a050">5</tspan></text>
</svg>
</body></html>
